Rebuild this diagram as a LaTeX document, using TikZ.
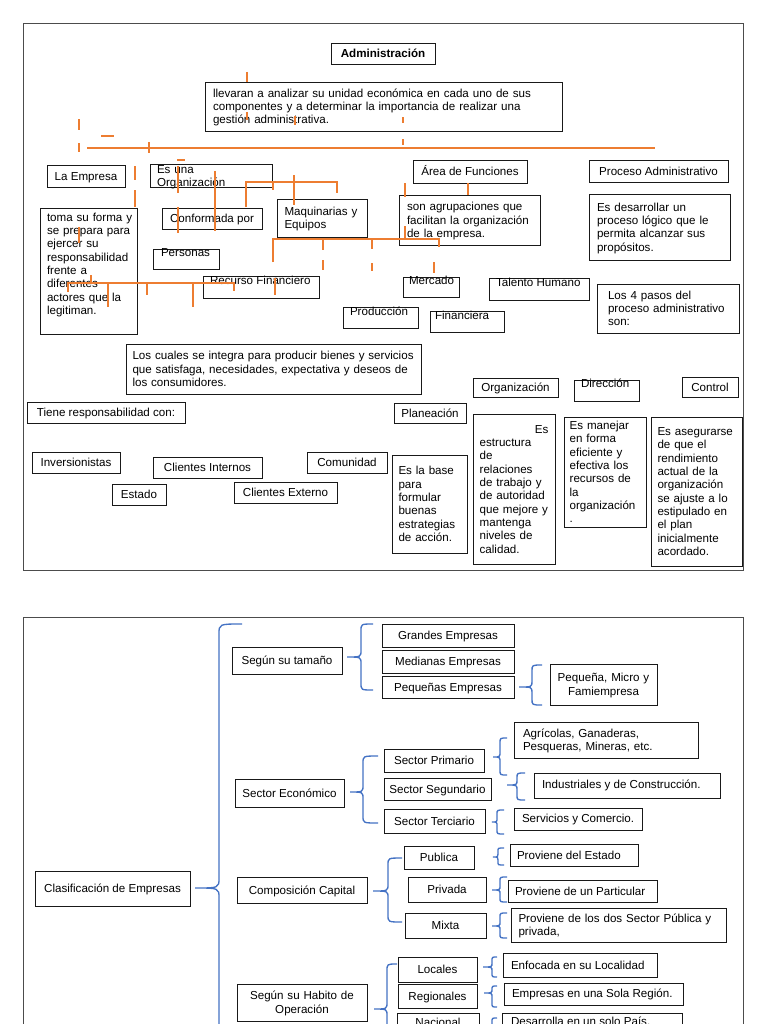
\documentclass[tikz,border=0pt]{standalone}
\usepackage{fontspec}
\setmainfont{Liberation Sans}
\setlength\parindent{0pt}
\definecolor{orng}{HTML}{ED7D31}
\definecolor{blu}{HTML}{4472C4}
\newcommand\st{\rule[-1.9pt]{0pt}{10pt}}
\newcommand\jline[1]{\makebox[\hsize][s]{\st#1}\par}
\newcommand\lline[1]{\st#1\par}
\newcommand\rline[1]{\makebox[\hsize][r]{\st#1}\par}
\newcommand\Bx[7][]{%
  \pgfmathsetmacro\bbw{(#5-#3)*0.75}%
  \pgfmathsetmacro\bbh{(#6-#4)*0.75}%
  \node[bx, minimum width=\bbw pt, minimum height=\bbh pt, #1] (#2) at ({(#3+#5)/2},{(#4+#6)/2}) {#7};}
% #1 xtip, #2 ymid, #3 xv, #4 xhook, #5 ytop, #6 ybot, #7 r
\newcommand\Brc[7]{\draw[brc] (#4,#5) .. controls (#3,#5) .. (#3,#5+#7) -- (#3,#2-#7) .. controls (#3,#2) .. (#1,#2) .. controls (#3,#2) .. (#3,#2+#7) -- (#3,#6-#7) .. controls (#3,#6) .. (#4,#6);}
\tikzset{
  base/.style={font=\fontsize{8.7}{10}\selectfont, inner sep=0pt, outer sep=0pt, execute at begin node=\st},
  bx/.style={base, draw=black!90, line width=0.6pt, rectangle},
  txt/.style={base},
  org/.style={draw=orng, line width=1.3pt},
  brc/.style={draw=blu, line width=1pt},
}
\begin{document}
\begin{tikzpicture}[x=0.75pt,y=-0.75pt]
\useasboundingbox (0,0) rectangle (768,1024);
\fill[white] (0,0) rectangle (768,1024);
\clip (0,0) rectangle (768,1024);
% panels
\Bx[draw=black!70]{ptop}{23}{23}{743}{570}{}
\Bx[draw=black!70]{pbot}{23}{617}{743}{1070}{}
% ---------- top panel ----------
\Bx{adm}{331}{43}{435}{64}{\bfseries Administración}
\Bx[text width=255.75pt]{llev}{205}{82}{562}{131}{\jline{llevaran a analizar su unidad económica en cada uno de sus}\jline{componentes y a determinar la importancia de realizar una}\lline{gestión administrativa.}}
\Bx{emp}{47}{165}{125}{187}{La Empresa}
\Bx{orgb}{150}{164}{272}{187}{}
\node[txt, anchor=north west, text width=79.5pt] (orgt) at (157,162.3) {\jline{Es una}\lline{Organización}};
\Bx{conf}{162}{208}{262}{229}{Conformada por}
\Bx[text width=56.25pt]{maq}{277}{199}{367}{237}{\jline{Maquinarias y}\lline{Equipos}}
\Bx{persb}{153}{249}{219}{269}{}
\node[txt, anchor=west] (perst) at (161,252) {Personas};
\Bx{recb}{203}{276}{319}{298}{}
\node[txt, anchor=west] (rect) at (210,280) {Recurso Financiero};
\Bx{tomab}{40}{208}{137}{334}{}
\node[txt, anchor=north west, text width=63pt] (tomat) at (47,210.3) {\jline{toma su forma y}\jline{se prepara para}\jline{ejercer su}\lline{responsabilidad}\jline{frente a}\lline{diferentes}\jline{actores que la}\lline{legitiman.}};
\Bx{area}{413}{160}{527}{183}{Área de Funciones}
\Bx[text width=93.75pt]{son}{399}{195}{540}{245}{\jline{son agrupaciones que}\jline{facilitan la organización}\lline{de la empresa.}}
\Bx{proc}{589}{160}{728}{182}{Proceso Administrativo}
\Bx[text width=93.75pt]{esd}{589}{194}{730}{260}{\jline{Es desarrollar un}\jline{proceso lógico que le}\jline{permita alcanzar sus}\lline{propósitos.}}
\Bx{mercb}{403}{277}{459}{297}{}
\node[txt, anchor=west] (merct) at (409,280.5) {Mercado};
\Bx{talb}{489}{278}{589}{300}{}
\node[txt, anchor=west] (talt) at (496,282) {Talento Humano};
\Bx{prodb}{343}{307}{418}{328}{}
\node[txt, anchor=west] (prodt) at (350,311) {Producción};
\Bx{finb}{430}{311}{504}{332}{}
\node[txt, anchor=west] (fint) at (435,315.5) {Financiera};
\Bx[text width=90pt]{pasos}{597}{284}{739}{333}{\jline{Los 4 pasos del}\jline{proceso administrativo}\lline{son:}}
\Bx[text width=211.5pt]{cual}{126}{344}{421}{394}{\jline{Los cuales se integra para producir bienes y servicios}\jline{que satisfaga, necesidades, expectativa y deseos de}\lline{los consumidores.}}
\Bx{org2}{473}{378}{558}{397}{Organización}
\Bx{dirb}{574}{380}{639}{401}{}
\node[txt, anchor=west] (dirt) at (581,383.5) {Dirección};
\Bx{ctrl}{682}{377}{738}{397}{Control}
\Bx{plan}{394}{403}{466}{423}{Planeación}
\Bx{tiene}{27}{402}{185}{423}{Tiene responsabilidad con:}
\Bx[text width=46.5pt]{base}{392}{455}{467}{553}{\jline{Es la base}\lline{para}\lline{formular}\lline{buenas}\lline{estrategias}\lline{de acción.}}
\Bx[text width=51.5pt]{estr}{473}{414}{555}{564}{\rline{Es}\lline{estructura}\lline{de}\lline{relaciones}\jline{de trabajo y}\jline{de autoridad}\jline{que mejore y}\lline{mantenga}\jline{niveles de}\lline{calidad.}}
\Bx[text width=53pt]{man}{564}{417}{646}{527}{\jline{Es manejar}\jline{en forma}\jline{eficiente y}\jline{efectiva los}\jline{recursos de}\lline{la}\lline{organización}\lline{.}}
\Bx[text width=58.5pt]{aseg}{651}{417}{742}{566}{\jline{Es asegurarse}\jline{de que el}\lline{rendimiento}\jline{actual de la}\lline{organización}\jline{se ajuste a lo}\jline{estipulado en}\jline{el plan}\lline{inicialmente}\lline{acordado.}}
\Bx{inv}{32}{452}{120}{473}{Inversionistas}
\Bx{cint}{153}{457}{262}{478}{Clientes Internos}
\Bx{com}{307}{452}{387}{473}{Comunidad}
\Bx{est}{112}{484}{166}{505}{Estado}
\Bx{cext}{234}{482}{337}{503}{Clientes Externo}
% orange line fragments
\draw[org] (247,72) -- (247,82);
\draw[org] (247,112) -- (247,120);
\draw[org] (295,116) -- (295,125);
\draw[org] (403,117) -- (403,123);
\draw[org] (403,139) -- (403,145);
\draw[org] (87,148) -- (655,148);
\draw[org] (149,142) -- (149,153);
\draw[org] (79,119) -- (79,130);
\draw[org] (79,143) -- (79,152);
\draw[org] (101,136) -- (114,136);
\draw[org] (177,160) -- (185,160);
\draw[org] (135,166) -- (135,180);
\draw[org] (135,190) -- (135,207);
\draw[org] (178,166) -- (178,193);
\draw[org] (178,207) -- (178,233);
\draw[org] (215,171) -- (215,231);
\draw[org] (246,207) -- (246,182) -- (337,182) -- (337,193);
\draw[org] (273,182) -- (273,190);
\draw[org] (294,175) -- (294,205);
\draw[org] (273,262) -- (273,239) -- (439,239) -- (439,247);
\draw[org] (323,239) -- (323,250);
\draw[org] (323,260) -- (323,270);
\draw[org] (372,239) -- (372,249);
\draw[org] (372,263) -- (372,271);
\draw[org] (405,226) -- (405,239);
\draw[org] (405,183) -- (405,197);
\draw[org] (468,183) -- (468,195);
\draw[org] (434,262) -- (434,273);
\draw[org] (275,278) -- (275,295);
\draw[org] (68,292) -- (68,283) -- (234,283) -- (234,291);
\draw[org] (91,275) -- (91,283);
\draw[org] (108,283) -- (108,307);
\draw[org] (147,283) -- (147,295);
\draw[org] (193,283) -- (193,307);
\draw[org] (79,227) -- (79,243);
% ---------- bottom panel ----------
\Bx{cls}{35}{871}{190}{906}{Clasificación de Empresas}
\Bx{tam}{232}{647}{342}{674}{Según su tamaño}
\Bx{gra}{382}{624}{514}{647}{Grandes Empresas}
\Bx{med}{382}{650}{514}{673}{Medianas Empresas}
\Bx{peq}{382}{676}{514}{698}{Pequeñas Empresas}
\Bx[text width=75pt, align=center]{pmf}{550}{664}{657}{705}{Pequeña, Micro y\\\st Famiempresa}
\Bx{eco}{235}{779}{344}{807}{Sector Económico}
\Bx{spri}{384}{749}{484}{772}{Sector Primario}
\Bx{sseg}{384}{778}{491}{800}{Sector Segundario}
\Bx{ster}{384}{809}{485}{833}{Sector Terciario}
\Bx[text width=124.5pt]{agr}{514}{722}{698}{758}{\jline{Agrícolas, Ganaderas,}\lline{Pesqueras, Mineras, etc.}}
\Bx{indb}{534}{773}{720}{798}{}
\node[txt, anchor=west] (indt) at (542,784.5) {Industriales y de Construcción.};
\Bx{servb}{514}{808}{642}{830}{}
\node[txt, anchor=west] (servt) at (522,818.5) {Servicios y Comercio.};
\Bx{capc}{237}{877}{367}{903}{Composición Capital}
\Bx{pub}{404}{846}{474}{869}{Publica}
\Bx{priv}{408}{877}{486}{902}{Privada}
\Bx{mix}{405}{913}{486}{938}{Mixta}
\Bx{pestb}{510}{844}{638}{866}{}
\node[txt, anchor=west] (pestt) at (517,855) {Proviene del Estado};
\Bx{pparb}{508}{880}{657}{902}{}
\node[txt, anchor=west] (ppart) at (515,891) {Proviene de un Particular};
\Bx[text width=150pt]{pdos}{511}{908}{726}{942}{\jline{Proviene de los dos Sector Pública y}\lline{privada,}}
\Bx[text width=87pt, align=center]{hab}{237}{984}{367}{1021}{Según su Habito de\\\st Operación}
\Bx{loc}{398}{957}{477}{982}{Locales}
\Bx{reg}{398}{984}{477}{1008}{Regionales}
\Bx{nacb}{397}{1013}{479}{1037}{}
\node[txt] (nact) at (438,1022) {Nacional};
\Bx{enfb}{503}{953}{657}{977}{}
\node[txt, anchor=west] (enft) at (511,965) {Enfocada en su Localidad};
\Bx{eregb}{504}{983}{683}{1005}{}
\node[txt, anchor=west] (eregt) at (512,993.5) {Empresas en una Sola Región.};
\Bx{desb}{502}{1013}{682}{1037}{}
\node[txt, anchor=west] (dest) at (511,1021) {Desarrolla en un solo País.};
% braces
\Brc{195}{888}{219}{242}{624}{1100}{10}
\Brc{347}{657}{361}{373}{624}{690}{7}
\Brc{519}{687}{532}{542}{665}{705}{6}
\Brc{350}{792}{363}{378}{756}{823}{7}
\Brc{493}{757}{500}{507}{738}{775}{5}
\Brc{507}{785}{517}{525}{773}{800}{5}
\Brc{492}{822}{497}{504}{810}{834}{4}
\Brc{373}{891}{388}{402}{858}{922}{7}
\Brc{493}{857}{498}{504}{848}{865}{3}
\Brc{492}{890}{500}{507}{877}{902}{4}
\Brc{492}{926}{500}{507}{913}{938}{4}
\Brc{374}{1009}{387}{397}{964}{1060}{7}
\Brc{483}{967}{492}{497}{957}{977}{4}
\Brc{484}{993}{492}{497}{986}{1007}{4}
\Brc{484}{1032}{492}{497}{1018}{1046}{4}
\end{tikzpicture}
\end{document}
